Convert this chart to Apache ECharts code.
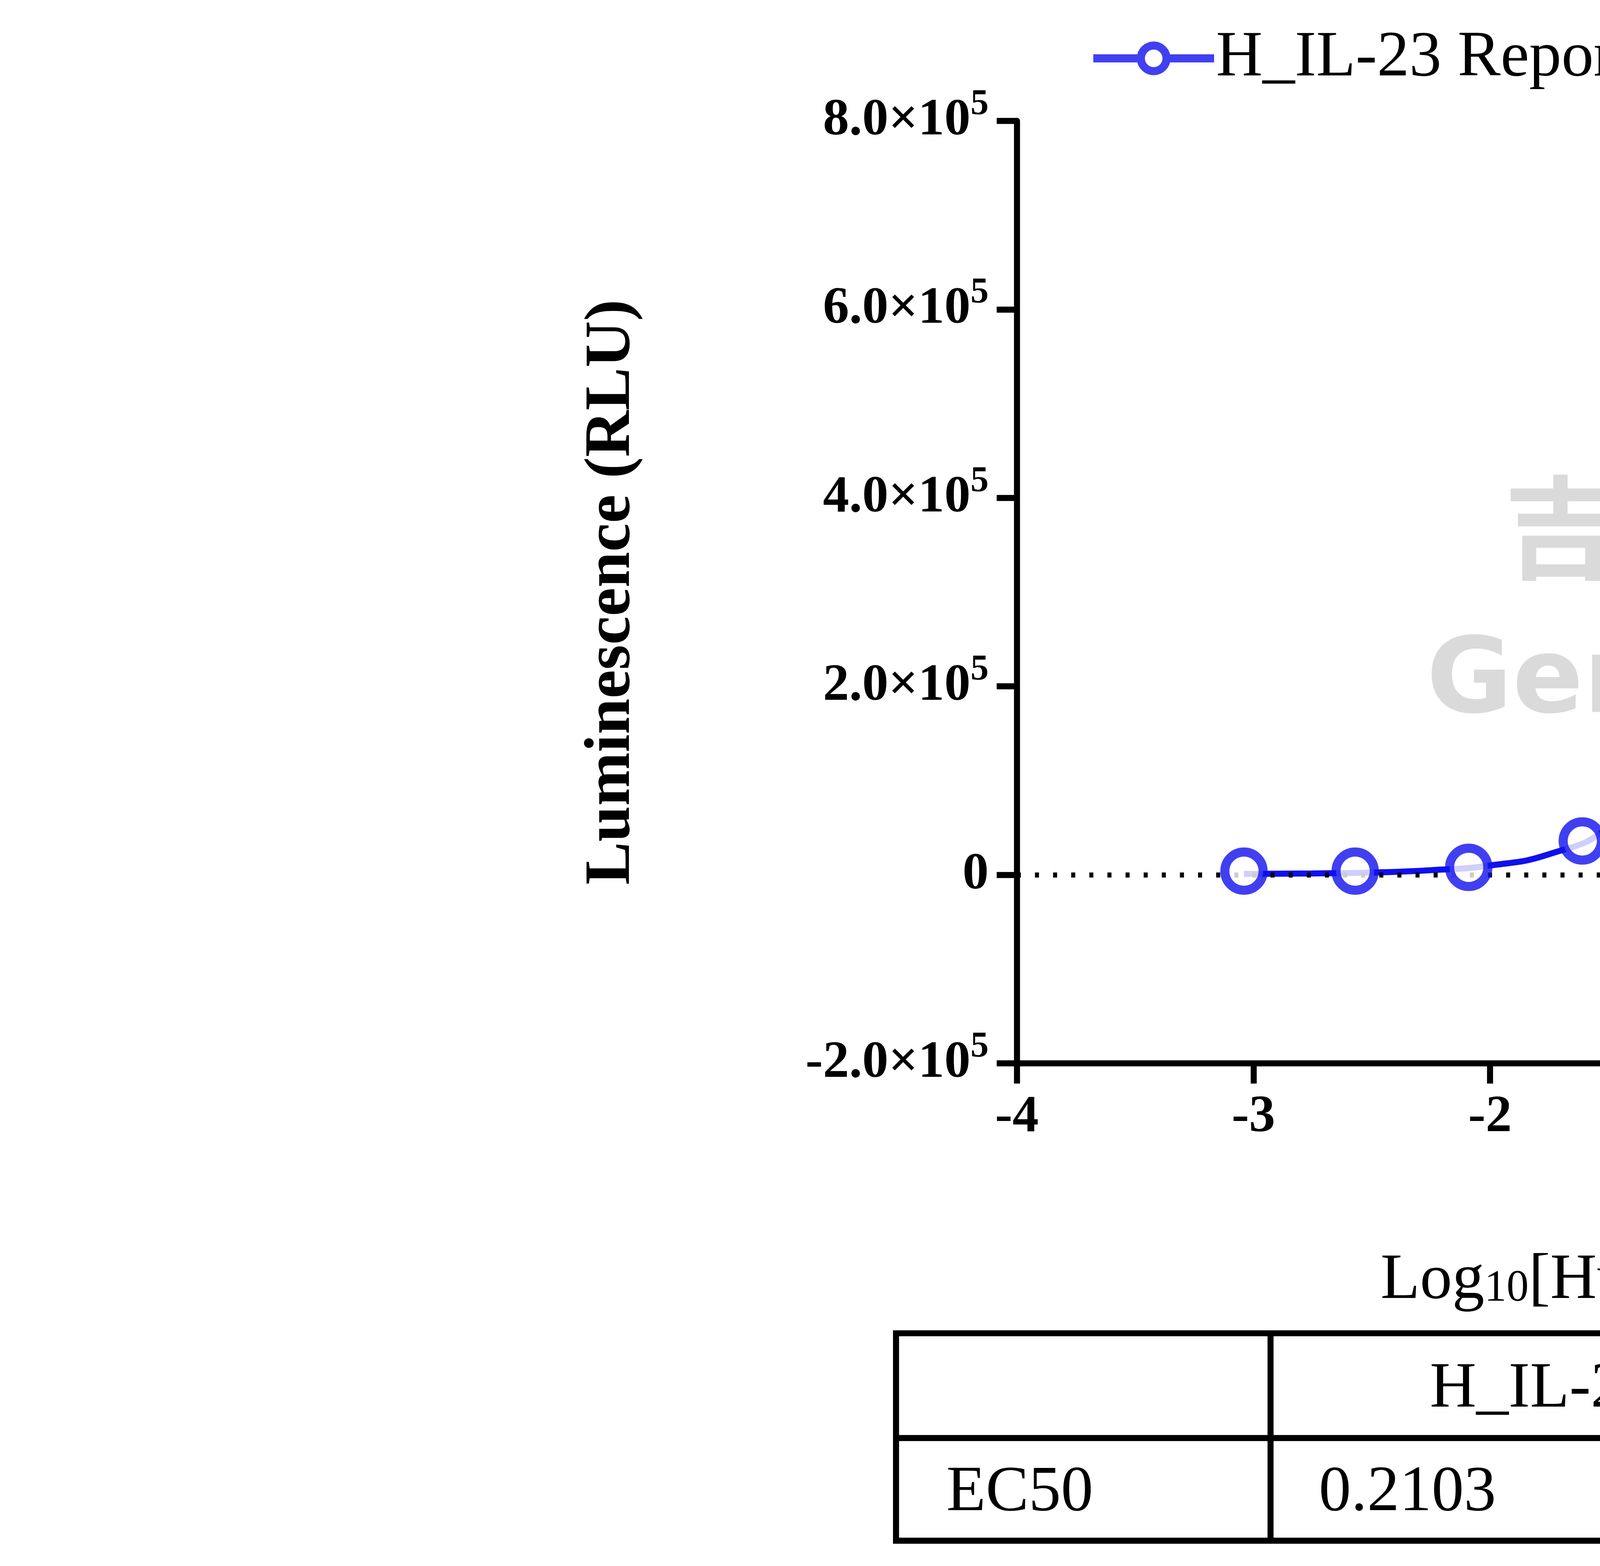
<!DOCTYPE html>
<html><head><meta charset="utf-8">
<script src="https://cdn.jsdelivr.net/npm/echarts@6/dist/echarts.min.js"></script>
<style>html,body{margin:0;padding:0;background:#fff;overflow:hidden}#c{width:8000px;height:4008px}</style>
</head><body><div id="c"></div>
<script>
const seriesName = 'H_IL-23 Reporter 293 Cell Line';
const logConc = [-3.04, -2.57, -2.09, -1.61, -1.13, -0.66, -0.18, 0.30, 0.78, 1.25];
const lumin = [4000, 4000, 8000, 36000, 190000, 363000, 568000, 656000, 763000, 669000];
const fitX = [-3.04, -2.75, -2.5, -2.25, -2.0, -1.75, -1.5, -1.25, -1.0, -0.8, -0.6, -0.4, -0.2, 0, 0.25, 0.5, 0.75, 1.0, 1.25];
const fitY = [1000, 1500, 2500, 5000, 10000, 22000, 50000, 115000, 220000, 310000, 400000, 480000, 550000, 602000, 648000, 678000, 698000, 708000, 712000];
const yTicks = {'-200000':'-2.0', '200000':'2.0', '400000':'4.0', '600000':'6.0', '800000':'8.0'};
const tableRows = [['', seriesName], ['EC50', '0.2103']];

const s = 8000/1552;
const blue = '#1010ee';
const chart = echarts.init(document.getElementById('c'), null, {width:8000, height:4008});
const font = 'Liberation Serif';
const tbl = {x0:445*s, x1:1205*s, xm:631*s, y0:662*s, ym:714*s, y1:765*s};
const graphics = [
  {type:'rect', shape:{x:tbl.x0, y:tbl.y0, width:tbl.x1-tbl.x0, height:tbl.y1-tbl.y0}, style:{fill:'none', stroke:'#000', lineWidth:3*s}},
  {type:'line', shape:{x1:tbl.x0, y1:tbl.ym, x2:tbl.x1, y2:tbl.ym}, style:{stroke:'#000', lineWidth:3*s}},
  {type:'line', shape:{x1:tbl.xm, y1:tbl.y0, x2:tbl.xm, y2:tbl.y1}, style:{stroke:'#000', lineWidth:3*s}},
  {type:'text', x:(tbl.xm+tbl.x1)/2, y:(tbl.y0+tbl.ym)/2+2*s, style:{text:tableRows[0][1], font:`${32*s}px "${font}"`, fill:'#000', align:'center', verticalAlign:'middle'}},
  {type:'text', x:470*s, y:(tbl.ym+tbl.y1)/2+2*s, style:{text:tableRows[1][0], font:`${32*s}px "${font}"`, fill:'#000', align:'left', verticalAlign:'middle'}},
  {type:'text', x:655*s, y:(tbl.ym+tbl.y1)/2+2*s, style:{text:tableRows[1][1], font:`${32*s}px "${font}"`, fill:'#000', align:'left', verticalAlign:'middle'}},
  {type:'text', x:915*s, y:262*s, z:-1, style:{text:'吉满生物科技', font:`bold ${56*s}px "Noto Sans CJK SC"`, fill:'rgba(150,150,150,0.35)', align:'center', verticalAlign:'middle'}},
  {type:'text', x:920*s, y:340*s, z:-1, style:{text:'Genomeditech', font:`bold ${52*s}px "DejaVu Sans"`, fill:'rgba(150,150,150,0.35)', align:'center', verticalAlign:'middle'}}
];
chart.setOption({
  animation:false,
  backgroundColor:'#fff',
  legend:{data:[{name:seriesName, icon:'path://M0,10 L26,10 A7,7 0 1 1 26,10.01 M40,10 L66,10', itemStyle:{color:'none', borderColor:blue, borderWidth:4*s}}],
    left:540*s, top:12*s, itemWidth:60*s, itemHeight:20*s,
    textStyle:{fontFamily:font, fontSize:32*s, color:'#000'}, itemGap:10*s},
  grid:{left:505*s, right:(1552-1210)*s, top:60*s, bottom:4008-528*s},
  xAxis:{type:'value', min:-4, max:2, interval:1,
    axisLine:{onZero:false, lineStyle:{color:'#000', width:3*s}}, axisTick:{length:10*s, lineStyle:{width:3*s}},
    axisLabel:{fontFamily:font, fontWeight:'bold', fontSize:26*s, color:'#000', margin:14*s},
    splitLine:{show:false},
    name:'{a|Log}{b|10}{a|[Human IL-23] (nM)}', nameLocation:'middle', nameGap:92*s,
    nameTextStyle:{rich:{a:{fontFamily:font, fontSize:32*s, color:'#000'}, b:{fontFamily:font, fontSize:22*s, color:'#000', padding:[8*s,0,0,0]}}}},
  yAxis:{type:'value', min:-200000, max:800000, interval:200000,
    axisLine:{show:true, onZero:false, lineStyle:{color:'#000', width:3*s}}, axisTick:{show:true, length:10*s, lineStyle:{width:3*s}},
    splitLine:{show:false},
    axisLabel:{margin:14*s, formatter:v=>v===0?'{a|0}':`{a|${yTicks[String(v)]}×10}{b|5}`,
      rich:{a:{fontFamily:font, fontWeight:'bold', fontSize:26*s, color:'#000'}, b:{fontFamily:font, fontWeight:'bold', fontSize:18*s, color:'#000', padding:[0,0,16*s,0]}}},
    name:'Luminescence (RLU)', nameLocation:'middle', nameGap:185*s,
    nameTextStyle:{fontFamily:font, fontWeight:'bold', fontSize:32*s, color:'#000'}},
  series:[
    {name:seriesName, type:'scatter', data:logConc.map((x,i)=>[x,lumin[i]]), symbol:'circle', symbolSize:19*s,
      itemStyle:{color:'#fff', borderColor:blue, borderWidth:4.5*s}, z:5,
      markLine:{silent:true, symbol:'none', label:{show:false}, lineStyle:{type:[2*s,7*s], color:'#000', width:2.5*s},
        data:[[{coord:[-4,0]},{coord:[2,0]}]]}},
    {name:'fit', type:'line', data:fitX.map((x,i)=>[x,fitY[i]]), smooth:true, showSymbol:false,
      lineStyle:{color:blue, width:3*s}, z:3}
  ],
  graphic:graphics
});
</script></body></html>
